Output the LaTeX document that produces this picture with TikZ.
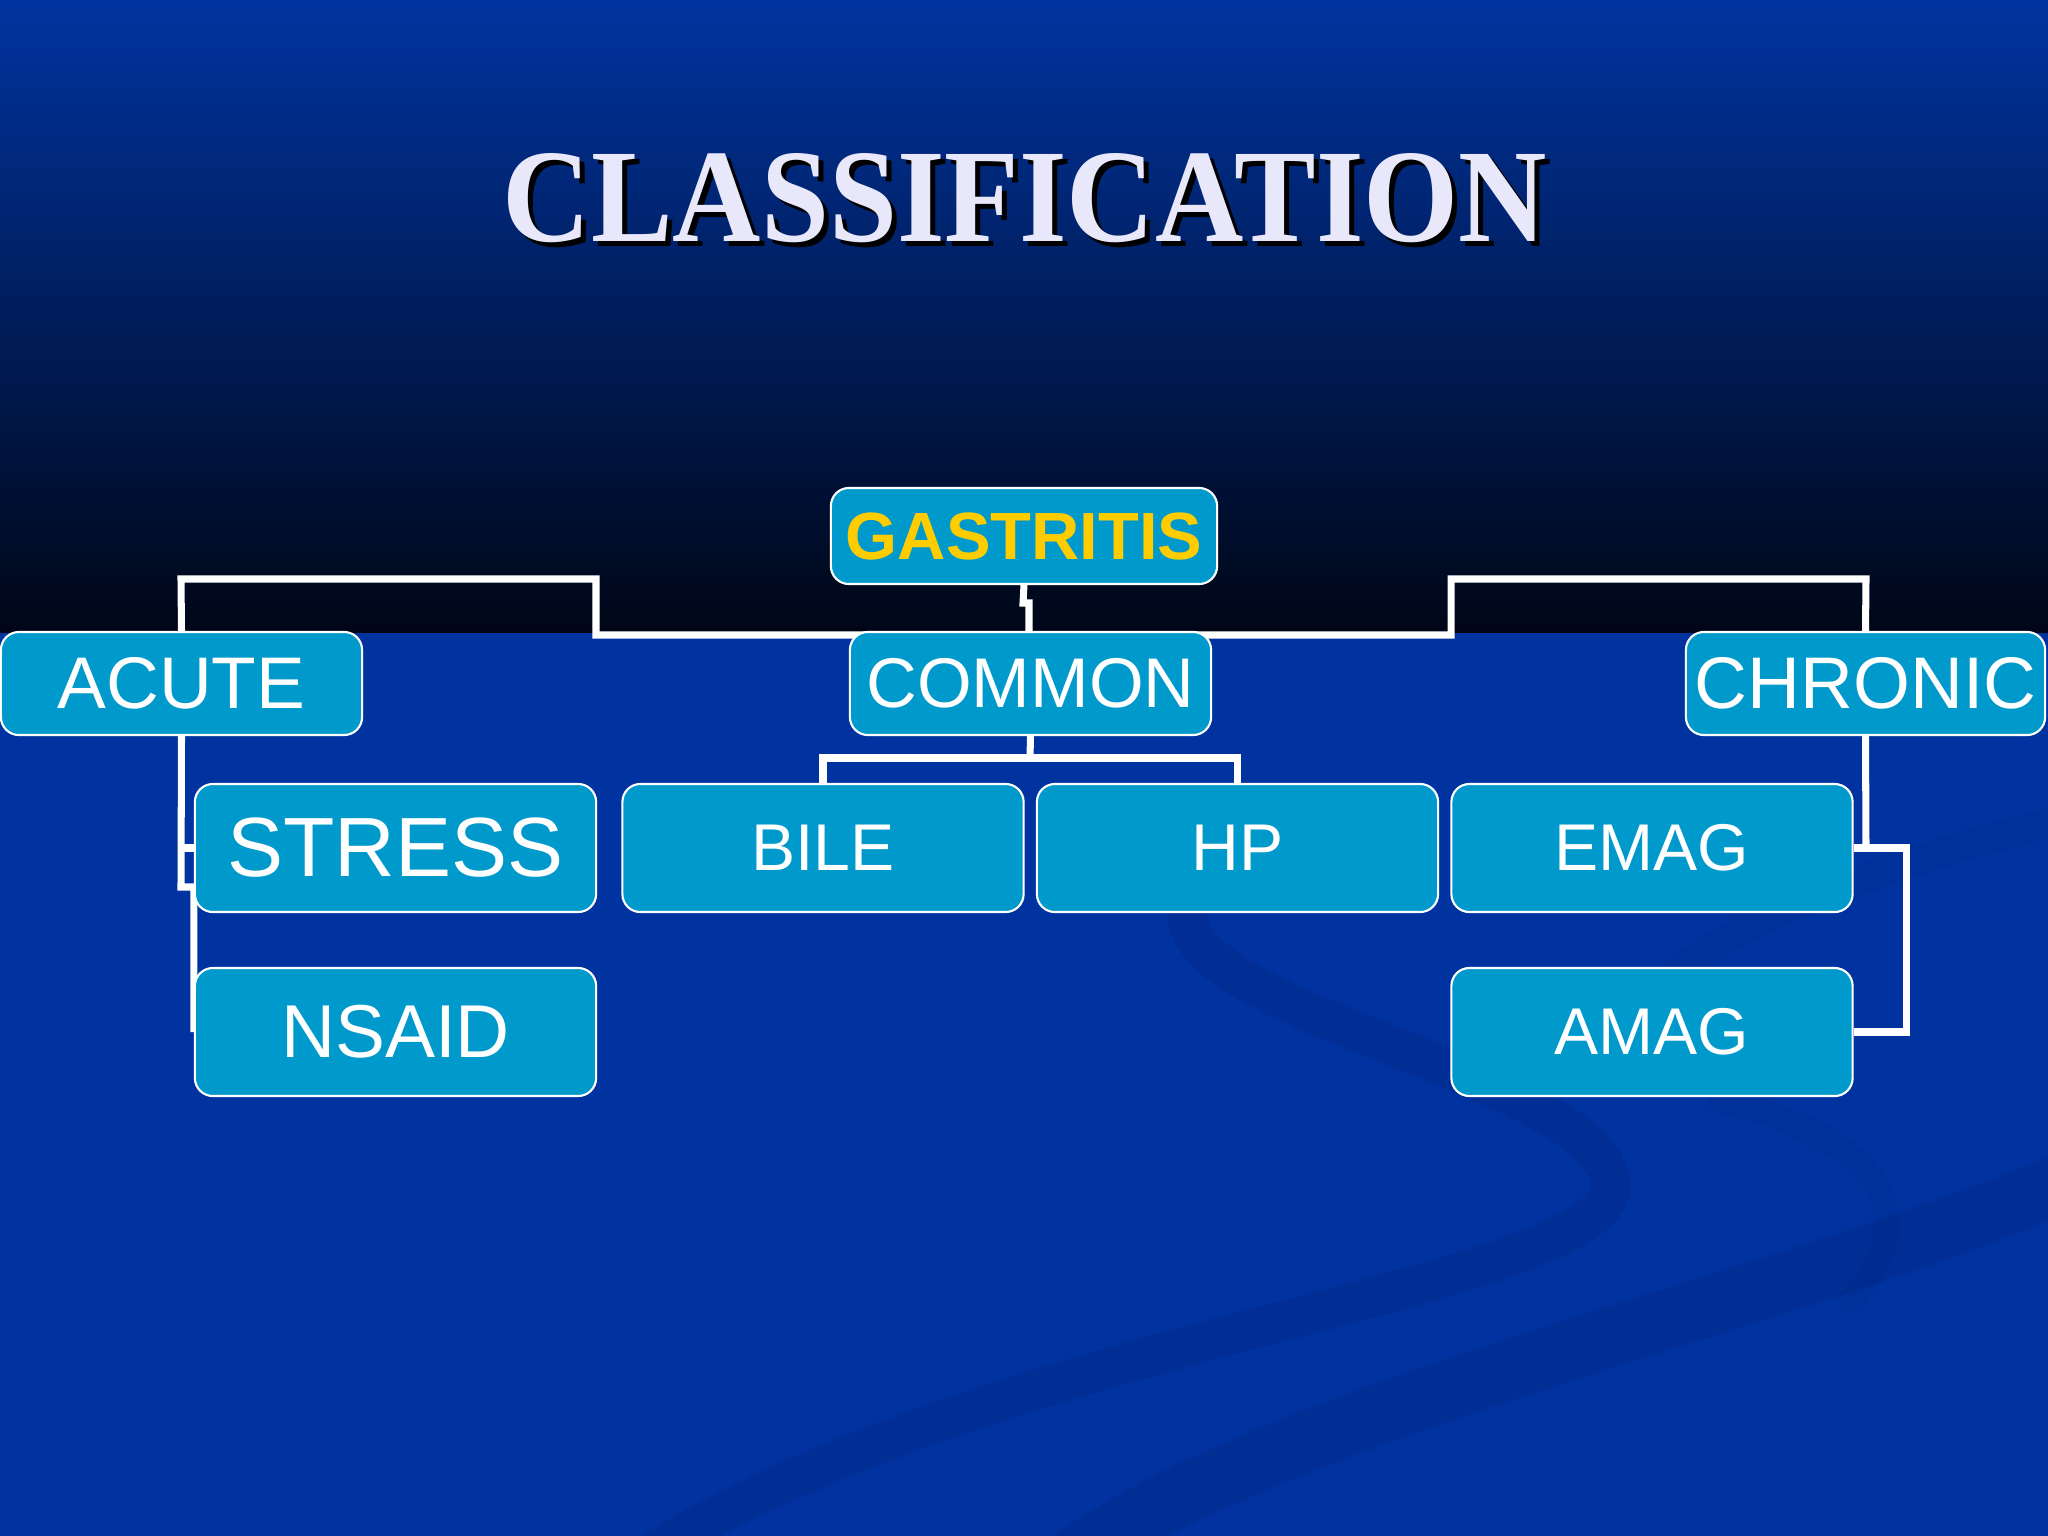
\documentclass[tikz,border=0pt]{standalone}
\usepackage{fontspec}
\setmainfont{Liberation Sans}
\newfontfamily\titlefont{Liberation Serif}
\pgfdeclarelayer{bg}
\pgfdeclarelayer{lines}
\pgfsetlayers{bg,lines,main}
\definecolor{topblue}{RGB}{0,52,160}
\definecolor{midblue}{RGB}{0,30,104}
\definecolor{darkblue}{RGB}{0,6,22}
\definecolor{bgblue}{RGB}{0,51,160}
\definecolor{boxblue}{RGB}{0,153,204}
\definecolor{gold}{RGB}{255,204,0}
\definecolor{titlewhite}{RGB}{232,232,250}
\definecolor{swooshblue}{RGB}{0,36,125}
\tikzset{
  box/.style={draw=white, line width=0.6pt, fill=boxblue, rounded corners=0.18cm,
    text=white, inner sep=0pt, anchor=center},
  toprow/.style={box, minimum width=3.61cm, minimum height=1.03cm, font=\fontsize{20.8}{22}\selectfont},
  leafbox/.style={box, minimum width=4.01cm, minimum height=1.28cm, font=\fontsize{18.8}{20}\selectfont},
  conn/.style={draw=white, line width=2pt},
  swoosh/.style={draw=swooshblue, opacity=0.3, line cap=round},
}
\begin{document}
\begin{tikzpicture}[x=0.01cm, y=-0.01cm]
\useasboundingbox (0,0) rectangle (2048,1536);
\begin{pgfonlayer}{bg}
  \fill[bgblue] (0,0) rectangle (2048,1536);
  \shade[top color=topblue, middle color=midblue, bottom color=darkblue] (0,0) rectangle (2048,632);
  \begin{scope}
    \clip (0,632) rectangle (2048,1536);
    \draw[swoosh, line width=40*0.2845pt] (1190,900) .. controls (1150,1010) and (1590,1070) .. (1610,1180) .. controls (1630,1290) and (1000,1330) .. (640,1560);
    \draw[swoosh, line width=60*0.2845pt] (2080,1175) .. controls (1800,1300) and (1300,1400) .. (1070,1560);
    \draw[swoosh, line width=30*0.2845pt, opacity=0.2] (2060,820) .. controls (1900,860) and (1720,920) .. (1660,990);
    \draw[swoosh, line width=25*0.2845pt, opacity=0.2] (1720,1100) .. controls (1930,1150) and (1900,1250) .. (1850,1300);
  \end{scope}
\end{pgfonlayer}

% title
\node[text=black, font=\titlefont\bfseries\fontsize{37.8}{40}\selectfont] (titleshadow) at (1030,203) {\scalebox{0.92}[1]{CLASSIFICATION}};
\node[text=titlewhite, font=\titlefont\bfseries\fontsize{37.8}{40}\selectfont] (title) at (1025,198) {\scalebox{0.92}[1]{CLASSIFICATION}};

% nodes
\node[box, minimum width=3.86cm, minimum height=0.96cm, text=gold, font=\bfseries\fontsize{19}{20}\selectfont] (gastritis) at (1024,536) {GASTRITIS};
\node[toprow] (acute) at (181.5,683.5) {ACUTE};
\node[toprow, font=\fontsize{20}{22}\selectfont] (common) at (1030.5,683.5) {COMMON};
\node[toprow, minimum width=3.59cm] (chronic) at (1865.5,683.5) {CHRONIC};
\node[leafbox, font=\fontsize{23.9}{25}\selectfont] (stress) at (395.5,848) {STRESS};
\node[leafbox] (bile) at (823,848) {BILE};
\node[leafbox] (hp) at (1237.5,848) {HP};
\node[leafbox] (emag) at (1652,848) {EMAG};
\node[leafbox, font=\fontsize{21.3}{22}\selectfont] (nsaid) at (395.5,1032) {NSAID};
\node[leafbox] (amag) at (1652,1032) {AMAG};

% connectors
\begin{pgfonlayer}{lines}
  \coordinate (ua) at (181,579);
  \coordinate (ub) at (596,579);
  \coordinate (uc) at (596,635);
  \coordinate (ud) at (1451,635);
  \coordinate (ue) at (1451,579);
  \coordinate (uf) at (1866,579);
  \draw[conn] (acute.north) -- (ua) -- (ub) -- (uc) -- (ud) -- (ue) -- (uf) -- (chronic.north);
  \draw[conn] (gastritis.south) -- (1023,603) -- (1029,603) -- (1029,632);
  \coordinate (cb) at (1030,758);
  \draw[conn] (common.south) -- (cb);
  \draw[conn] (bile.north) |- (cb) -| (hp.north);
  \coordinate (aa) at (181,848);
  \coordinate (ab) at (181,887);
  \draw[conn] (acute.south) -- (ab) -| (nsaid.west);
  \draw[conn] (aa) -- (stress.west);
  \coordinate (ca) at (1866,848);
  \coordinate (cc) at (1906,848);
  \draw[conn] (chronic.south) -- (ca);
  \draw[conn] (emag.east) -- (cc) |- (amag.east);
\end{pgfonlayer}
\end{tikzpicture}
\end{document}
